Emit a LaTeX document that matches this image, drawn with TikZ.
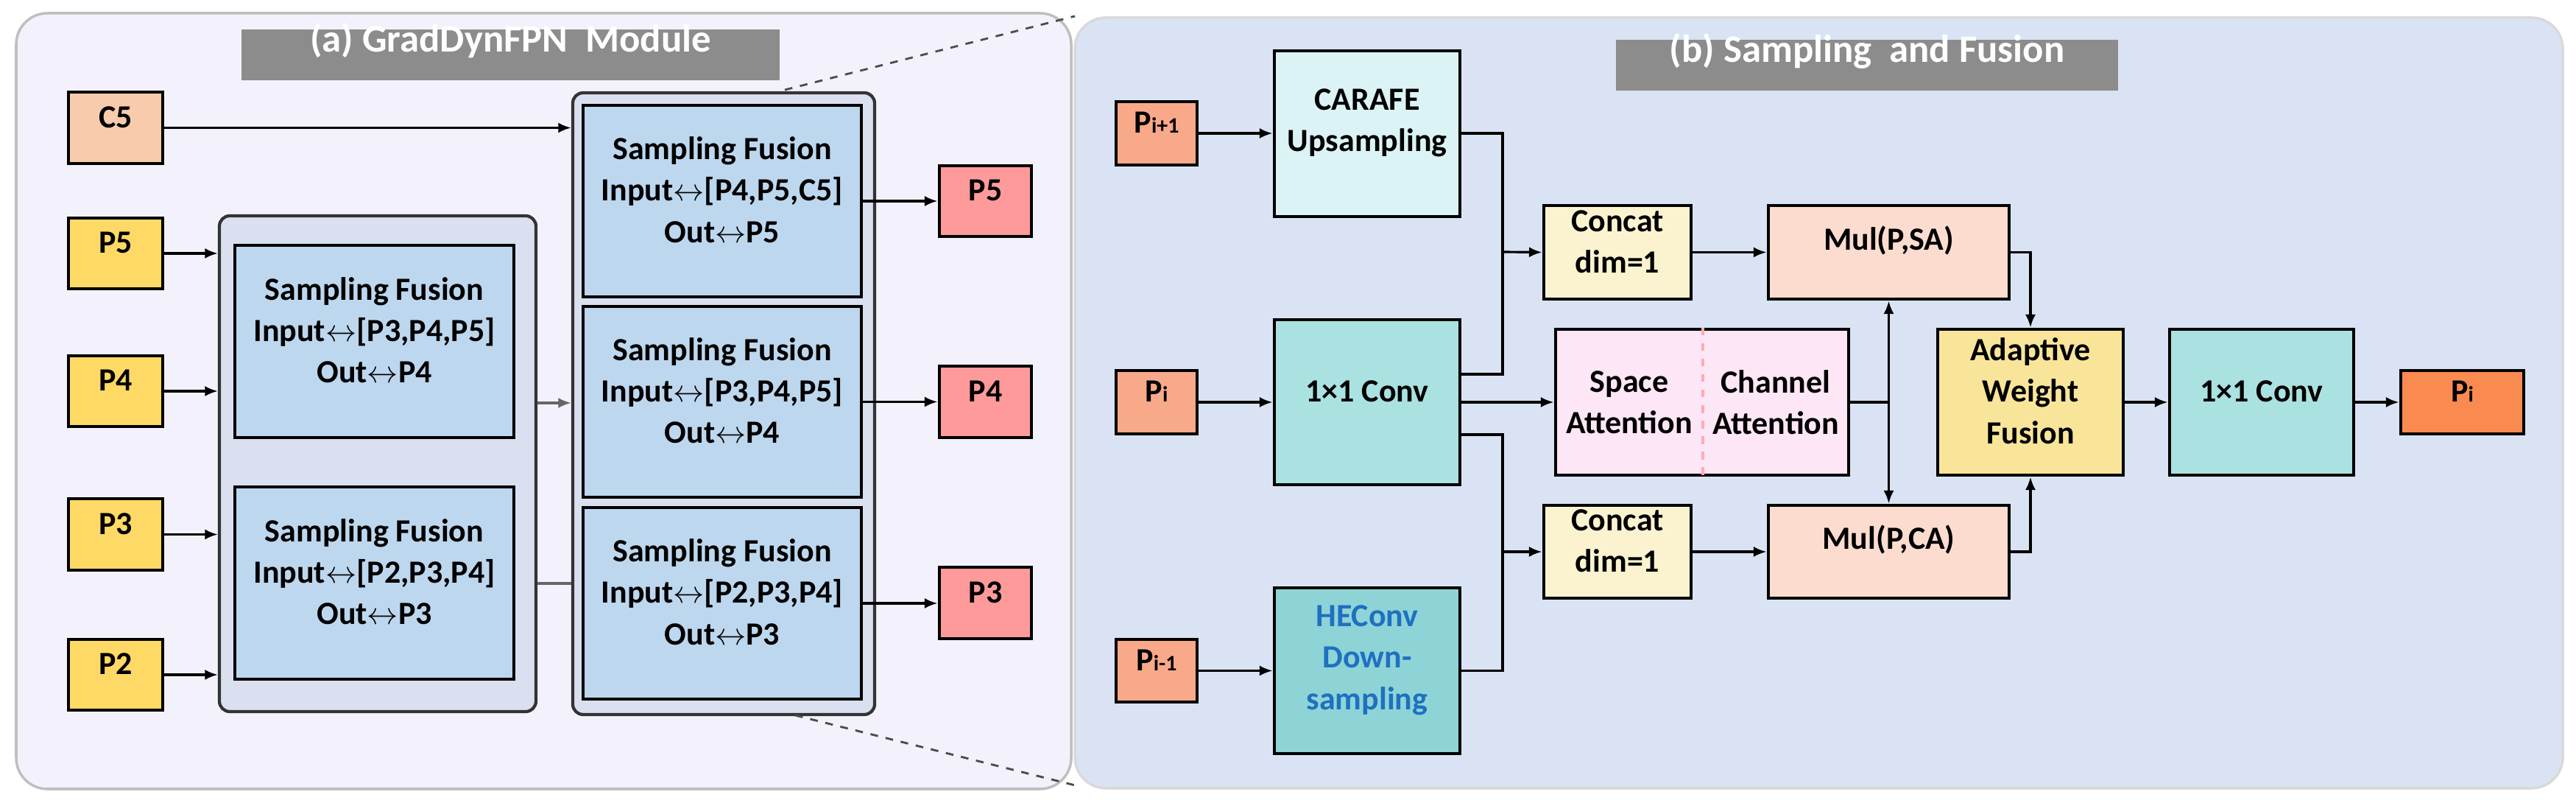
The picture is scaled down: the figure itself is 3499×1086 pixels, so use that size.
\documentclass[tikz,border=0pt]{standalone}
\usepackage{fontspec}
\setmainfont{Carlito}
\usetikzlibrary{fit, arrows.meta, positioning}
\definecolor{panelA}{HTML}{F3F2FC}
\definecolor{panelB}{HTML}{DAE3F3}
\definecolor{cfill}{HTML}{F8CBAD}
\definecolor{pyel}{HTML}{FFD966}
\definecolor{ppink}{HTML}{FF9A9A}
\definecolor{grp}{HTML}{DAE0EF}
\definecolor{sfbox}{HTML}{BDD7EE}
\definecolor{pin}{HTML}{F8A98A}
\definecolor{pout}{HTML}{F98B50}
\definecolor{carafe}{HTML}{DBF3F5}
\definecolor{conv}{HTML}{A9E2E0}
\definecolor{heconv}{HTML}{8ED4D6}
\definecolor{concat}{HTML}{FBF3D0}
\definecolor{mul}{HTML}{FCDCCF}
\definecolor{att}{HTML}{FDE6F5}
\definecolor{adapt}{HTML}{F8E59A}
\definecolor{hetext}{HTML}{1F70C1}
\tikzset{
  box/.style={draw=black, line width=1.4pt, inner sep=0pt, align=center,
    font=\bfseries\fontsize{12.5}{16}\selectfont},
  grpbox/.style={draw=black!80, line width=1.2pt, rounded corners=4pt, inner sep=0pt, fill=grp},
  title/.style={fill=black!45, text=white, inner sep=0pt, font=\bfseries\fontsize{15}{18}\selectfont},
  arrow/.style={line width=0.9pt, -{Latex[length=5pt,width=4pt]}},
  link/.style={line width=0.9pt}
}
\newcommand{\sub}[1]{{\fontsize{8.5}{9}\selectfont #1}}
\begin{document}
\begin{tikzpicture}[x=0.01cm, y=-0.01cm]
  \useasboundingbox (0,0) rectangle (3499,1086);
  % panels
  \draw[draw=black!25, line width=1pt, fill=panelA, rounded corners=12pt] (22,18) rectangle (1455,1071);
  \draw[draw=black!15, line width=1pt, fill=panelB, rounded corners=12pt] (1460,24) rectangle (3481,1070);
  \node (titleA) [title, fit={(328,40)(1059,109)}] {(a) GradDynFPN~~Module};
  \node (titleB) [title, fit={(2195,54)(2877,123)}] {(b) Sampling~~and Fusion};

  % (a) inputs
  \node (c5) [box, fill=cfill, fit={(93,125)(221,222)}] {C5};
  \node (p5) [box, fill=pyel, fit={(93,296)(221,392)}] {P5};
  \node (p4) [box, fill=pyel, fit={(93,483)(221,579)}] {P4};
  \node (p3) [box, fill=pyel, fit={(93,677)(221,774)}] {P3};
  \node (p2) [box, fill=pyel, fit={(93,868)(221,964)}] {P2};

  % (a) groups
  \node (midgrp) [grpbox, fit={(298,293)(728,966)}] {};
  \node (rgtgrp) [grpbox, fit={(778,126)(1188,970)}] {};
  \node (sf4) [box, fill=sfbox, fit={(319,333)(698,594)}] {Sampling Fusion\\Input$\leftrightarrow$[P3,P4,P5]\\Out$\leftrightarrow$P4};
  \node (sf3) [box, fill=sfbox, fit={(319,661)(698,922)}] {Sampling Fusion\\Input$\leftrightarrow$[P2,P3,P4]\\Out$\leftrightarrow$P3};
  \node (rf5) [box, fill=sfbox, fit={(792,143)(1170,403)}] {Sampling Fusion\\Input$\leftrightarrow$[P4,P5,C5]\\Out$\leftrightarrow$P5};
  \node (rf4) [box, fill=sfbox, fit={(792,416)(1170,675)}] {Sampling Fusion\\Input$\leftrightarrow$[P3,P4,P5]\\Out$\leftrightarrow$P4};
  \node (rf3) [box, fill=sfbox, fit={(792,689)(1170,949)}] {Sampling Fusion\\Input$\leftrightarrow$[P2,P3,P4]\\Out$\leftrightarrow$P3};

  % (a) outputs
  \node (o5) [box, fill=ppink, fit={(1276,225)(1401,321)}] {P5};
  \node (o4) [box, fill=ppink, fit={(1276,497)(1401,594)}] {P4};
  \node (o3) [box, fill=ppink, fit={(1276,770)(1401,867)}] {P3};

  \draw [arrow] (c5.east) -- (c5.east -| rgtgrp.west);
  \foreach \p in {p5,p4,p3,p2}
    \draw [arrow] (\p.east) -- (\p.east -| midgrp.west);
  \draw [arrow, black!60] (midgrp.east |- 0,547) -- (rgtgrp.west |- 0,547);
  \draw [link, black!60] (midgrp.east |- 0,792) -- (rgtgrp.west |- 0,792);
  \draw [arrow] (rf5.east) -- (o5.west |- rf5.east);
  \draw [arrow] (rf4.east) -- (o4.west |- rf4.east);
  \draw [arrow] (rf3.east) -- (o3.west |- rf3.east);

  % zoom lines
  \coordinate (zt) at (1460,22);
  \coordinate (zb) at (1460,1066);
  \draw [dashed, black!70, line width=0.8pt] (1066,122) -- (zt);
  \draw [dashed, black!70, line width=0.8pt] (1080,971) -- (zb);

  % (b) inputs
  \node (pup) [box, fill=pin, fit={(1516,138)(1626,224)}] {P\sub{i+1}};
  \node (pmid) [box, fill=pin, fit={(1516,503)(1626,589)}] {P\sub{i}};
  \node (pdn) [box, fill=pin, fit={(1516,868)(1626,953)}] {P\sub{i-1}};
  \node (carafe) [box, fill=carafe, fit={(1731,69)(1983,294)}] {CARAFE\\Upsampling};
  \node (conva) [box, fill=conv, fit={(1731,434)(1983,658)}] {1×1 Conv};
  \node (heconv) [box, fill=heconv, text=hetext, fit={(1731,798)(1983,1023)}] {HEConv\\Down-\\sampling};
  \node (cat1) [box, fill=concat, fit={(2097,279)(2297,406)}] {Concat\\dim=1};
  \node (cat2) [box, fill=concat, fit={(2097,686)(2297,812)}] {Concat\\dim=1};
  \node (mulsa) [box, fill=mul, fit={(2402,279)(2729,406)}] {Mul(P,SA)};
  \node (mulca) [box, fill=mul, fit={(2402,686)(2729,812)}] {Mul(P,CA)};
  \node (att) [box, fill=att, fit={(2113,447)(2511,645)}] {};
  \node (space) [font=\bfseries\fontsize{12.5}{16}\selectfont, align=center] at (2213,546) {Space\\Attention};
  \node (chan) [font=\bfseries\fontsize{12.5}{16}\selectfont, align=center] at (2412,546) {Channel\\Attention};
  \draw [dashed, pink!90!red, line width=1pt] (att.north -| 2313,0) -- (att.south -| 2313,0);
  \node (adapt) [box, fill=adapt, fit={(2632,447)(2884,645)}] {Adaptive\\Weight\\Fusion};
  \node (convb) [box, fill=conv, fit={(2947,447)(3197,645)}] {1×1 Conv};
  \node (pout) [box, fill=pout, fit={(3261,503)(3428,589)}] {P\sub{i}};

  \draw [arrow] (pup) -- (pup -| carafe.west);
  \draw [arrow] (pmid) -- (conva);
  \draw [arrow] (pdn) -- (pdn -| heconv.west);
  \draw [link] (carafe.east |- pup) -| (2041,342);
  \draw [link] (conva.east |- 0,508) -| (2041,342);
  \draw [arrow] (2041,342) -- (cat1.west);
  \draw [link] (conva.east |- 0,590) -| (2041,749);
  \draw [link] (heconv.east |- pdn) -| (2041,749);
  \draw [arrow] (2041,749) -- (cat2.west);
  \draw [arrow] (conva.east |- att.west) -- (att.west);
  \draw [arrow] (cat1) -- (mulsa);
  \draw [arrow] (cat2) -- (mulca);
  \coordinate (attj) at (mulsa.south |- att.east);
  \draw [link] (att.east) -- (attj);
  \draw [arrow] (attj) -- (mulsa.south);
  \draw [arrow] (attj) -- (mulca.north);
  \draw [arrow] (mulsa.east) -| (adapt.north);
  \draw [arrow] (mulca.east) -| (adapt.south);
  \draw [arrow] (adapt) -- (convb);
  \draw [arrow] (convb) -- (pout);
\end{tikzpicture}
\end{document}
